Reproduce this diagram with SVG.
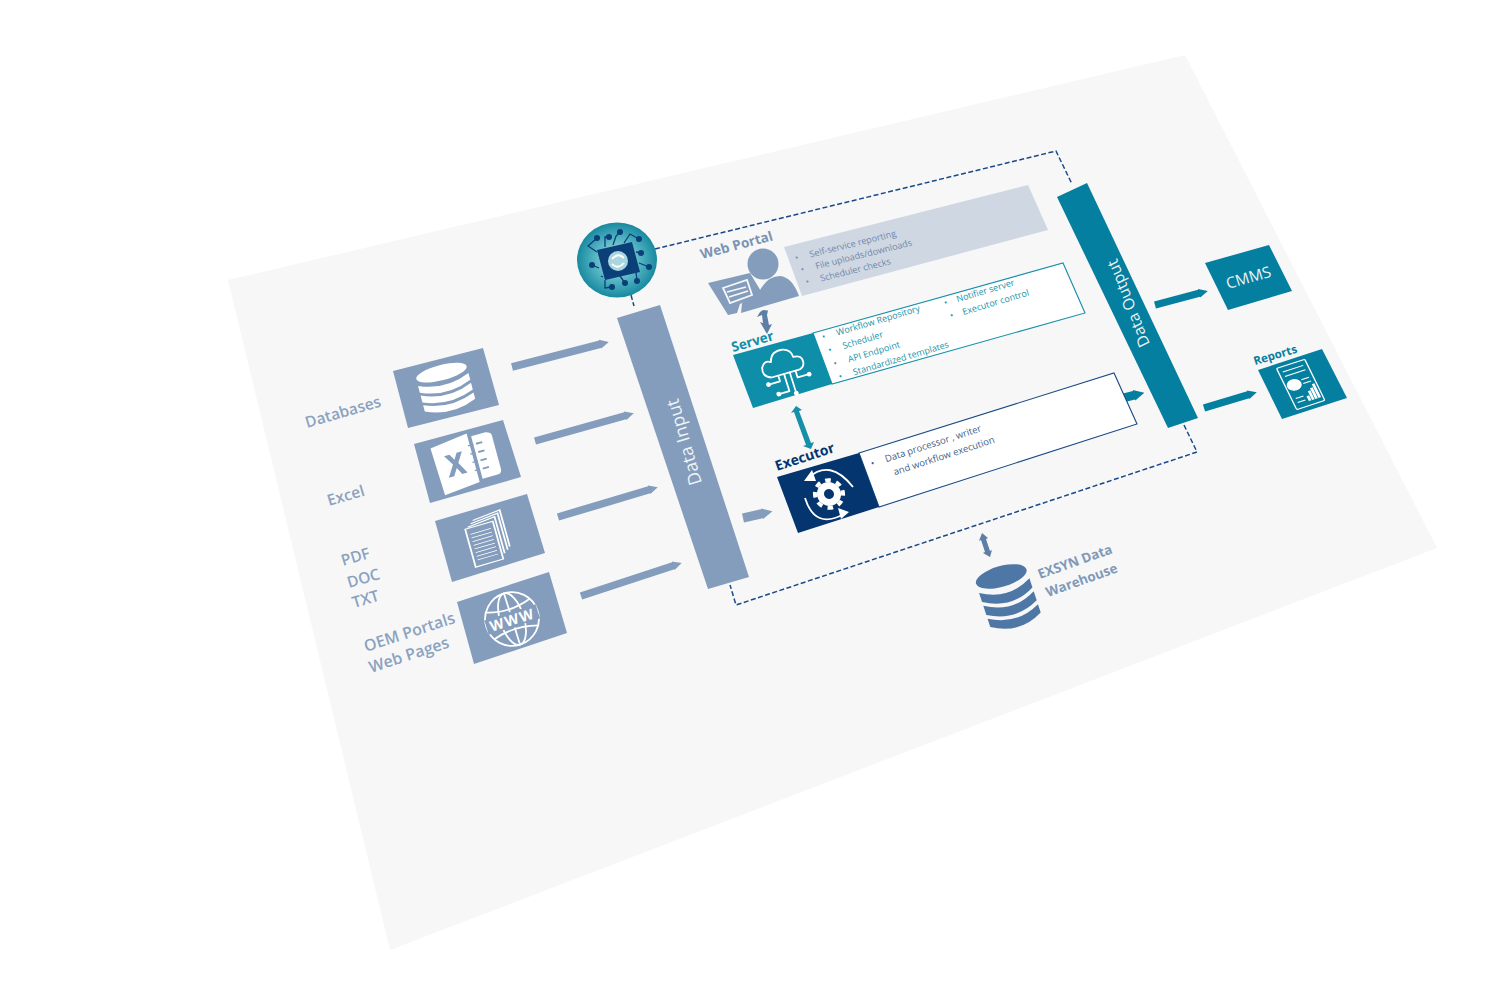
<svg xmlns="http://www.w3.org/2000/svg" width="1500" height="1000" viewBox="0 0 1500 1000">
<style>
text{font-family:"Open Sans","Noto Sans","Liberation Sans",sans-serif}
.lab{font-size:15.500px;font-weight:600;fill:#8ba2bf}
.sm{font-size:9px;fill:#6f88a8}
.smt{font-size:9px;fill:#1c93ac}
.smd{font-size:9.500px;fill:#3f5f8a}
.bar{font-size:18px;fill:#eef3f7}
.blue{fill:#849dbc}
.teal{fill:#057f9f}
.dash{fill:none;stroke:#1a4a85;stroke-width:1.500;stroke-dasharray:5 2.5}
.w{fill:#fff}
</style>
<defs>
<radialGradient id="chipg" cx="50%" cy="50%" r="55%"><stop offset="0" stop-color="#b7e0e6"/><stop offset=".55" stop-color="#4fb1c0"/><stop offset="1" stop-color="#0a7f97"/></radialGradient>
<symbol id="db" viewBox="0 0 100 100" overflow="visible">
<ellipse cx="50" cy="23" rx="28" ry="13"/>
<path d="M22 35Q50 54 78 35V47Q50 66 22 47Z"/>
<path d="M22 52Q50 71 78 52V64Q50 82 22 64Z"/>
<path d="M22 69Q50 87 78 69V80Q50 99 22 80Z"/>
</symbol>
<marker id="hb" viewBox="0 0 10 10" refX="1" refY="5" markerWidth="1.200" markerHeight="2.200" orient="auto"><path d="M0 0L10 5L0 10Z" fill="#849dbc"/></marker>
<marker id="ht" viewBox="0 0 10 10" refX="1" refY="5" markerWidth="1.200" markerHeight="2.200" orient="auto"><path d="M0 0L10 5L0 10Z" fill="#057f9f"/></marker>
</defs>
<polygon points="228,280 1185,55 1437,548 390,950" fill="#f7f7f8"/>

<g id="connectors">
<path class="dash" d="M655,249L1056,151L1072,184"/>
<path class="dash" d="M631,295L634,306"/>
<path class="dash" d="M1184,425L1197,452L736,605L730,585"/>
<g fill="none" stroke="#849dbc" stroke-width="7.500">
<path d="M512,367L601,344" marker-end="url(#hb)"/>
<path d="M535,441L626,415.500" marker-end="url(#hb)"/>
<path d="M558,517L650,489.500" marker-end="url(#hb)"/>
<path d="M581,596L674,565.500" marker-end="url(#hb)"/>
<path d="M743,518L763,513.500" stroke-width="9" marker-end="url(#hb)"/>
</g>
<g fill="none" stroke="#057f9f" stroke-width="7.500">
<path d="M1155,305L1200,293" marker-end="url(#ht)"/>
<path d="M1204,408L1249,394.500" marker-end="url(#ht)"/>
<path d="M1119,399L1135,395" stroke-width="9" marker-end="url(#ht)"/>
</g>
<path d="M760,312L763,310L768,310.500L767,315L769,325L772,324L767,334L760,322L763,323L762,315L757,317Z" fill="#5f7ea6"/>
<path d="M796,406L802,410L799,411L811,443L814,442L811,449L803,446L806,445L794,412L791,413Z" fill="#1590a8"/>
<path d="M982,533L988,538L986,539L990,551L992,550L990,557L983,553L985,552L981,540L979,541Z" fill="#5f7ea6"/>
</g>

<g id="bar-input"><polygon class="blue" points="617,318 660,305 749,577 708,589"/>
<text class="bar" transform="matrix(-.27,-.96,.96,-.29,702,483)">Data Input</text></g>
<g id="bar-output"><polygon class="teal" points="1057,197 1087,183 1198,418 1168,428"/>
<text class="bar" style="font-size:16px" transform="matrix(-.36,-.93,.9,-.43,1150,344)">Data Output</text></g>

<g id="chip">
<ellipse cx="617" cy="260" rx="40" ry="37.500" fill="url(#chipg)"/>
<g fill="none" stroke="#0b3f78" stroke-width="1.300">
<path d="M597,252L588,246L597,238M605,247L605,237L609,237M613,245L616,236L620,232M624,243L630,234L639,239M636,252L641,253M639,263L649,267M636,272L637,281M620,276L625,283M605,280L605,288L612,287M599,268L592,265M601,276L603,277"/>
</g>
<g fill="#0b3f78"><circle cx="597" cy="238" r="3"/><circle cx="609" cy="237" r="3"/><circle cx="620" cy="232" r="3"/><circle cx="639" cy="239" r="3"/><circle cx="641" cy="253" r="3"/><circle cx="649" cy="267" r="3"/><circle cx="637" cy="281" r="3"/><circle cx="625" cy="283" r="3"/><circle cx="612" cy="287" r="3"/><circle cx="592" cy="265" r="3"/></g>
<polygon points="597,250 632,242 640,272 605,280" fill="#0b3f78"/>
<circle cx="618" cy="261" r="10" fill="#a9d6de"/>
<path d="M612,259Q618,252 624,258M624,263Q618,270 612,264" fill="none" stroke="#fff" stroke-width="1.800"/>
</g>

<g id="web-portal">
<polygon points="784,247 1028,185 1048,230 802,296" fill="#cfd7e3"/>
<circle cx="763" cy="264" r="15.500" class="blue"/>
<path class="blue" d="M742,303L760,290Q768,276 780,276Q792,277 799,296L741,313Z"/>
<path class="blue" d="M708,283L750,273L762,293L740,304L737,313L728,315Z"/>
<g fill="none" stroke="#f7f7f8" stroke-width="1.800"><path d="M723,288L747,280L752,295L730,303Z"/><path d="M727,292L746,287M729,297L748,291"/></g>
<text class="lab" style="fill:#7b93b3;font-size:13.500px;font-weight:700" transform="matrix(.967,-.255,.29,.957,702,259)">Web Portal</text>
<g class="sm" transform="matrix(.97,-.24,.3,.95,796,261)">
<text>•</text><text x="15">Self-service reporting</text>
<text x="2" y="13">•</text><text x="17" y="13">File uploads/downloads</text>
<text x="3" y="26">•</text><text x="18" y="26">Scheduler checks</text>
</g>
</g>

<g id="server">
<polygon points="813,333 1063,263 1085,313 832,384" fill="#fff" stroke="#1590a8" stroke-width="1.100"/>
<polygon points="733,355 813,333 832,384 753,408" fill="#0e8ea8"/>
<g transform="matrix(.96,-.27,.3,.95,784,374)" fill="none" stroke="#fff" stroke-width="1.800" stroke-linecap="round" stroke-linejoin="round">
<path d="M-13,0Q-22,-3 -19,-12Q-15,-19 -9,-15Q-6,-26 6,-24Q14,-22 14,-14Q23,-14 22,-6Q21,0 14,0Z"/>
<path d="M-6,0V6H-16M0,0V18H-9M6,0V20M12,0V7H22"/>
<g fill="#fff"><circle cx="-18" cy="6" r="1.500"/><circle cx="-11" cy="18" r="1.500"/><circle cx="6" cy="22" r="1.500"/><circle cx="24" cy="7" r="1.500"/></g>
</g>
<text class="lab" style="fill:#0e8ea8;font-size:13.500px;font-weight:700" transform="matrix(.96,-.28,.29,.957,733,352)">Server</text>
<g class="smt" transform="matrix(.958,-.285,.3,.95,823,340)">
<text>•</text><text x="15">Workflow Repository</text>
<text x="2" y="14.500">•</text><text x="17" y="14.500">Scheduler</text>
<text x="3" y="29">•</text><text x="18" y="29">API Endpoint</text>
<text x="4" y="43">•</text><text x="19" y="43">Standardized templates</text>
</g>
<g class="smt" transform="matrix(.958,-.285,.3,.95,945,306)">
<text>•</text><text x="13">Notifier server</text>
<text x="2" y="14">•</text><text x="15" y="14">Executor control</text>
</g>
</g>

<g id="executor">
<polygon points="859,453 1114,373 1137,424 879,507" fill="#fff" stroke="#1a4a85" stroke-width="1.100"/>
<polygon points="777,477 859,453 879,507 798,533" fill="#04356f"/>
<g transform="matrix(.96,-.27,.3,.95,829,494)">
<circle r="14" fill="none" stroke="#fff" stroke-width="4" stroke-dasharray="5.500 5.500"/>
<circle r="12" class="w"/>
<circle r="5" fill="#04356f"/>
</g>
<g fill="none" stroke="#fff" stroke-width="1.800"><path d="M808,478Q830,458 853,487"/><path d="M805,498Q815,530 844,514"/></g>
<path class="w" d="M804,481L812,470L816,481Z"/><path class="w" d="M849,512L838,508L841,519Z"/>
<text class="lab" style="fill:#04356f;font-size:14px;font-weight:700" transform="matrix(.95,-.31,.32,.947,777,471)">Executor</text>
<g class="smd" transform="matrix(.95,-.31,.32,.947,872,467)">
<text>•</text><text x="15">Data processor , writer</text>
<text x="19" y="15">and workflow execution</text>
</g>
</g>

<g id="databases">
<polygon class="blue" points="393,371 483,348 499,405 408,428"/>
<use href="#db" width="100" height="100" class="w" transform="matrix(.9,-.23,.15,.57,393,371)"/>
<text class="lab" transform="matrix(.96,-.28,.29,.957,307,428)">Databases</text>
</g>
<g id="excel">
<polygon class="blue" points="414,444 503,420 521,477 430,503"/>
<g transform="matrix(.89,-.24,.16,.59,414,444)">
<polygon class="w" points="16,14 58,6 58,88 18,94"/>
<path class="w" d="M62,12H78Q84,14 84,20V76Q84,84 78,84H62Z"/>
<path d="M28,32L34,32L38,42L42,32L48,32L41,49L48,68L42,68L38,56L33,68L27,68L35,49Z" fill="#849dbc"/>
<path d="M65,26H72M65,40H72M65,54H72M65,68H72" stroke="#849dbc" stroke-width="3"/>
<path d="M62,26H56M62,40H56M62,54H56M62,68H56" stroke="#849dbc" stroke-width="2"/>
</g>
<text class="lab" transform="matrix(.96,-.28,.29,.957,329,506)">Excel</text>
</g>
<g id="documents">
<polygon class="blue" points="435,521 527,494 545,553 452,582"/>
<g transform="matrix(.92,-.27,.17,.61,435,521)" fill="none" stroke="#fff" stroke-width="1.800">
<path d="M38,16L68,12L68,72"/><path d="M35,20L65,16L65,76"/><path d="M31,24L61,20L61,80"/>
<rect x="28" y="26" width="30" height="62" fill="#849dbc"/>
<path d="M32,36H54M32,42H54M32,48H54M32,54H54M32,60H54M32,66H54M32,72H54M32,78H54" stroke-width="1.200"/>
</g>
<g class="lab"><text transform="matrix(.96,-.28,.29,.957,343,566)">PDF</text><text transform="matrix(.96,-.28,.29,.957,349,588)">DOC</text><text transform="matrix(.96,-.28,.29,.957,354,608)">TXT</text></g>
</g>
<g id="www">
<polygon class="blue" points="457,602 549,572 567,633 474,664"/>
<g transform="matrix(.95,-.3,.3,.95,512,619)" fill="none" stroke="#fff" stroke-width="1.800">
<circle r="27"/>
<ellipse rx="12" ry="27"/>
<path d="M0,-27V-7M0,9V27M-23,-14Q0,-6 23,-14M-23,14Q0,7 23,14"/>
<rect x="-27" y="-7" width="54" height="15" fill="#849dbc" stroke="none"/>
<text y="6" x="0" text-anchor="middle" fill="#fff" stroke="none" style="font-size:14.500px;font-weight:700;letter-spacing:1.500px">WWW</text>
</g>
<g class="lab" style="font-size:16px"><text transform="matrix(.95,-.31,.3,.955,366,652)">OEM Portals</text><text transform="matrix(.95,-.31,.3,.955,371,673)">Web Pages</text></g>
</g>
<g id="cmms">
<polygon class="teal" points="1205,263 1269,245 1292,291 1228,310"/>
<text style="font-size:15.500px" fill="#eaf4f7" transform="matrix(.96,-.27,.3,.95,1228,289)">CMMS</text>
</g>
<g id="reports">
<polygon class="teal" points="1258,370 1322,349 1347,398 1282,419"/>
<g transform="matrix(.64,-.21,.24,.49,1258,370)" fill="none" stroke="#fff" stroke-width="2">
<rect x="26" y="8" width="44" height="84" rx="2"/>
<path d="M32,18H64M32,27H64M52,42H64M52,50H64M32,72H44M32,80H44"/>
<circle cx="39" cy="47" r="10" fill="#fff"/>
<path d="M50,84V74M55,84V66M60,84V62M65,84V56" stroke-width="4"/>
</g>
<text class="lab" style="font-size:11.500px;fill:#057f9f;font-weight:700" transform="matrix(.96,-.28,.3,.95,1255,365)">Reports</text>
</g>
<g id="warehouse">
<use href="#db" width="100" height="100" fill="#4f77a5" transform="matrix(.9,-.26,.25,.76,950.500,572)"/>
<g class="lab" style="fill:#7f99b9;font-size:13.500px;font-weight:700"><text transform="matrix(.93,-.33,.36,.93,1040,579)">EXSYN Data</text><text transform="matrix(.93,-.33,.36,.93,1048,597)">Warehouse</text></g>
</g>
</svg>
